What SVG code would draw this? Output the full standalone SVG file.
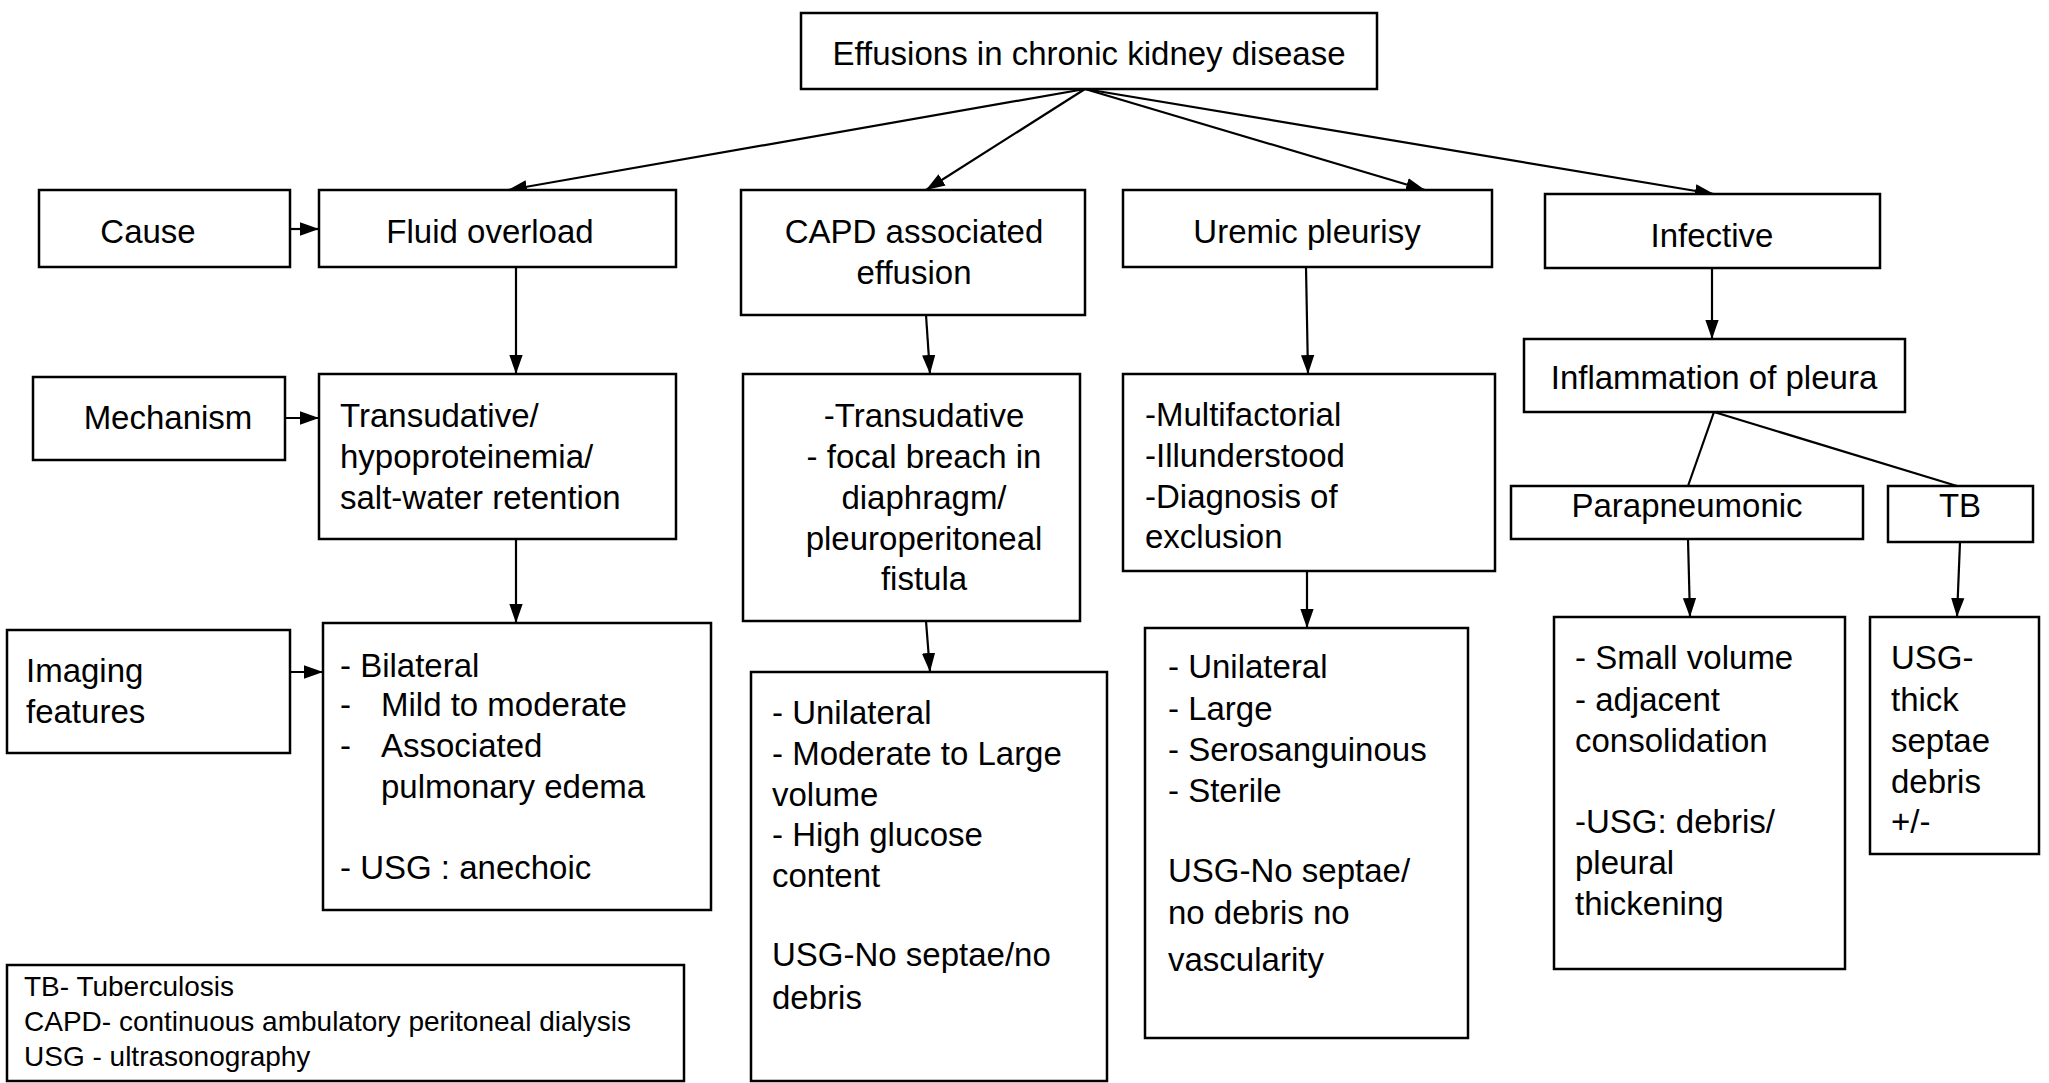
<svg xmlns="http://www.w3.org/2000/svg" width="2049" height="1083" viewBox="0 0 2049 1083">
<style>
rect{fill:#fff;stroke:#000;stroke-width:2.5}
text{font-family:"Liberation Sans",Arial,sans-serif;font-size:33px;fill:#000}
.c{text-anchor:middle}
.s{font-size:28px}
#edges line{stroke:#000;stroke-width:2.2}
</style>
<defs><marker id="b" viewBox="0 0 10 10" refX="10" refY="5" markerWidth="19" markerHeight="19" markerUnits="userSpaceOnUse" orient="auto"><path d="M0,1.5L10,5L0,8.5z" fill="#000"/></marker></defs>
<rect width="2049" height="1083" style="stroke:none"/>
<g id="edges">
<line x1="1085" y1="89" x2="508" y2="190" marker-end="url(#b)"/>
<line x1="1085" y1="89" x2="926" y2="190" marker-end="url(#b)"/>
<line x1="1085" y1="89" x2="1425" y2="190" marker-end="url(#b)"/>
<line x1="1085" y1="89" x2="1714" y2="194" marker-end="url(#b)"/>
<line x1="290" y1="229" x2="319" y2="229" marker-end="url(#b)"/>
<line x1="285" y1="418" x2="319" y2="418" marker-end="url(#b)"/>
<line x1="290" y1="672" x2="323" y2="672" marker-end="url(#b)"/>
<line x1="516" y1="267" x2="516" y2="374" marker-end="url(#b)"/>
<line x1="926" y1="315" x2="930" y2="374" marker-end="url(#b)"/>
<line x1="1306" y1="267" x2="1308" y2="374" marker-end="url(#b)"/>
<line x1="1712" y1="268" x2="1712" y2="339" marker-end="url(#b)"/>
<line x1="1714" y1="412" x2="1688" y2="486"/>
<line x1="1714" y1="412" x2="1957" y2="486"/>
<line x1="1688" y1="539" x2="1690" y2="617" marker-end="url(#b)"/>
<line x1="1960" y1="542" x2="1957" y2="617" marker-end="url(#b)"/>
<line x1="516" y1="539" x2="516" y2="623" marker-end="url(#b)"/>
<line x1="926" y1="621" x2="930" y2="672" marker-end="url(#b)"/>
<line x1="1307" y1="571" x2="1307" y2="628" marker-end="url(#b)"/>
</g>
<g id="title"><rect x="801" y="13" width="576" height="76"/><text class="c" x="1089" y="65">Effusions in chronic kidney disease</text></g>
<g id="cause"><rect x="39" y="190" width="251" height="77"/><text class="c" x="148" y="243">Cause</text></g>
<g id="fluid"><rect x="319" y="190" width="357" height="77"/><text class="c" x="490" y="243">Fluid overload</text></g>
<g id="capd"><rect x="741" y="190" width="344" height="125"/><text class="c" x="914" y="243">CAPD associated</text><text class="c" x="914" y="284">effusion</text></g>
<g id="uremic"><rect x="1123" y="190" width="369" height="77"/><text class="c" x="1307" y="243">Uremic pleurisy</text></g>
<g id="infective"><rect x="1545" y="194" width="335" height="74"/><text class="c" x="1712" y="247">Infective</text></g>
<g id="mechanism"><rect x="33" y="377" width="252" height="83"/><text class="c" x="168" y="429">Mechanism</text></g>
<g id="fluidmech"><rect x="319" y="374" width="357" height="165"/><text x="340" y="427">Transudative/</text><text x="340" y="468">hypoproteinemia/</text><text x="340" y="509">salt-water retention</text></g>
<g id="capdmech"><rect x="743" y="374" width="337" height="247"/><text class="c" x="924" y="427">-Transudative</text><text class="c" x="924" y="468">- focal breach in</text><text class="c" x="924" y="509">diaphragm/</text><text class="c" x="924" y="550">pleuroperitoneal</text><text class="c" x="924" y="590">fistula</text></g>
<g id="uremicmech"><rect x="1123" y="374" width="372" height="197"/><text x="1145" y="426">-Multifactorial</text><text x="1145" y="467">-Illunderstood</text><text x="1145" y="508">-Diagnosis of</text><text x="1145" y="548">exclusion</text></g>
<g id="inflammation"><rect x="1524" y="339" width="381" height="73"/><text class="c" x="1714" y="389">Inflammation of pleura</text></g>
<g id="para"><rect x="1511" y="486" width="352" height="53"/><text class="c" x="1687" y="517">Parapneumonic</text></g>
<g id="tb"><rect x="1888" y="486" width="145" height="56"/><text class="c" x="1960" y="517">TB</text></g>
<g id="imaging"><rect x="7" y="630" width="283" height="123"/><text x="26" y="682">Imaging</text><text x="26" y="723">features</text></g>
<g id="fluidimg"><rect x="323" y="623" width="388" height="287"/><text x="340" y="677">- Bilateral</text><text x="340" y="716">-</text><text x="381" y="716">Mild to moderate</text><text x="340" y="757">-</text><text x="381" y="757">Associated</text><text x="381" y="798">pulmonary edema</text><text x="340" y="879">- USG : anechoic</text></g>
<g id="capdimg"><rect x="751" y="672" width="356" height="409"/><text x="772" y="724">- Unilateral</text><text x="772" y="765">- Moderate to Large</text><text x="772" y="806">volume</text><text x="772" y="846">- High glucose</text><text x="772" y="887">content</text><text x="772" y="966">USG-No septae/no</text><text x="772" y="1009">debris</text></g>
<g id="uremicimg"><rect x="1145" y="628" width="323" height="410"/><text x="1168" y="678">- Unilateral</text><text x="1168" y="720">- Large</text><text x="1168" y="761">- Serosanguinous</text><text x="1168" y="802">- Sterile</text><text x="1168" y="882">USG-No septae/</text><text x="1168" y="924">no debris no</text><text x="1168" y="971">vascularity</text></g>
<g id="paraimg"><rect x="1554" y="617" width="291" height="352"/><text x="1575" y="669">- Small volume</text><text x="1575" y="711">- adjacent</text><text x="1575" y="752">consolidation</text><text x="1575" y="833">-USG: debris/</text><text x="1575" y="874">pleural</text><text x="1575" y="915">thickening</text></g>
<g id="tbimg"><rect x="1870" y="617" width="169" height="237"/><text x="1891" y="669">USG-</text><text x="1891" y="711">thick</text><text x="1891" y="752">septae</text><text x="1891" y="793">debris</text><text x="1891" y="833">+/-</text></g>
<g id="legend"><rect x="7" y="965" width="677" height="116"/><text class="s" x="24" y="996">TB- Tuberculosis</text><text class="s" x="24" y="1031">CAPD- continuous ambulatory peritoneal dialysis</text><text class="s" x="24" y="1066">USG - ultrasonography</text></g>
</svg>
